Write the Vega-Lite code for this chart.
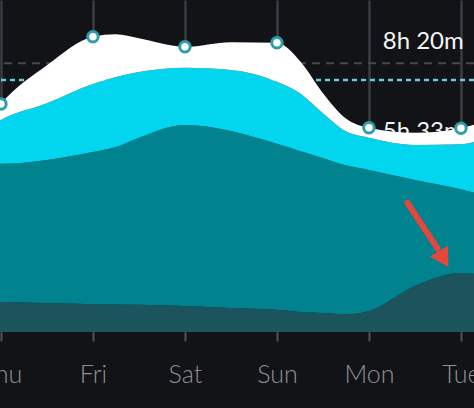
{
  "$schema": "https://vega.github.io/schema/vega-lite/v6.json",
  "width": 474,
  "height": 332,
  "padding": {"left": 0, "top": 0, "right": 0, "bottom": 76},
  "autosize": {"type": "none"},
  "background": "#121317",
  "config": {"view": {"stroke": null}},
  "datasets": {
    "stages": [
      {"day": -0.02, "stage": "Deep", "rank": 1, "hours": 0.84},
      {"day": -0.02, "stage": "Light", "rank": 2, "hours": 3.87},
      {"day": -0.02, "stage": "REM", "rank": 3, "hours": 1.2},
      {"day": -0.02, "stage": "Awake", "rank": 4, "hours": 0.42},
      {"day": 0, "stage": "Deep", "rank": 1, "hours": 0.84},
      {"day": 0, "stage": "Light", "rank": 2, "hours": 3.87},
      {"day": 0, "stage": "REM", "rank": 3, "hours": 1.23},
      {"day": 0, "stage": "Awake", "rank": 4, "hours": 0.45},
      {"day": 0.5, "stage": "Deep", "rank": 1, "hours": 0.81},
      {"day": 0.5, "stage": "Light", "rank": 2, "hours": 4.01},
      {"day": 0.5, "stage": "REM", "rank": 3, "hours": 1.59},
      {"day": 0.5, "stage": "Awake", "rank": 4, "hours": 1.06},
      {"day": 1, "stage": "Deep", "rank": 1, "hours": 0.78},
      {"day": 1, "stage": "Light", "rank": 2, "hours": 4.26},
      {"day": 1, "stage": "REM", "rank": 3, "hours": 1.91},
      {"day": 1, "stage": "Awake", "rank": 4, "hours": 1.32},
      {"day": 1.25, "stage": "Deep", "rank": 1, "hours": 0.77},
      {"day": 1.25, "stage": "Light", "rank": 2, "hours": 4.41},
      {"day": 1.25, "stage": "REM", "rank": 3, "hours": 1.96},
      {"day": 1.25, "stage": "Awake", "rank": 4, "hours": 1.2},
      {"day": 1.5, "stage": "Deep", "rank": 1, "hours": 0.76},
      {"day": 1.5, "stage": "Light", "rank": 2, "hours": 4.68},
      {"day": 1.5, "stage": "REM", "rank": 3, "hours": 1.84},
      {"day": 1.5, "stage": "Awake", "rank": 4, "hours": 0.95},
      {"day": 2, "stage": "Deep", "rank": 1, "hours": 0.73},
      {"day": 2, "stage": "Light", "rank": 2, "hours": 5.07},
      {"day": 2, "stage": "REM", "rank": 3, "hours": 1.6},
      {"day": 2, "stage": "Awake", "rank": 4, "hours": 0.59},
      {"day": 2.5, "stage": "Deep", "rank": 1, "hours": 0.67},
      {"day": 2.5, "stage": "Light", "rank": 2, "hours": 4.96},
      {"day": 2.5, "stage": "REM", "rank": 3, "hours": 1.71},
      {"day": 2.5, "stage": "Awake", "rank": 4, "hours": 0.78},
      {"day": 3, "stage": "Deep", "rank": 1, "hours": 0.62},
      {"day": 3, "stage": "Light", "rank": 2, "hours": 4.65},
      {"day": 3, "stage": "REM", "rank": 3, "hours": 1.74},
      {"day": 3, "stage": "Awake", "rank": 4, "hours": 1.09},
      {"day": 3.25, "stage": "Deep", "rank": 1, "hours": 0.56},
      {"day": 3.25, "stage": "Light", "rank": 2, "hours": 4.51},
      {"day": 3.25, "stage": "REM", "rank": 3, "hours": 1.62},
      {"day": 3.25, "stage": "Awake", "rank": 4, "hours": 0.9},
      {"day": 3.5, "stage": "Deep", "rank": 1, "hours": 0.53},
      {"day": 3.5, "stage": "Light", "rank": 2, "hours": 4.34},
      {"day": 3.5, "stage": "REM", "rank": 3, "hours": 1.26},
      {"day": 3.5, "stage": "Awake", "rank": 4, "hours": 0.56},
      {"day": 3.75, "stage": "Deep", "rank": 1, "hours": 0.5},
      {"day": 3.75, "stage": "Light", "rank": 2, "hours": 4.17},
      {"day": 3.75, "stage": "REM", "rank": 3, "hours": 0.95},
      {"day": 3.75, "stage": "Awake", "rank": 4, "hours": 0.36},
      {"day": 4, "stage": "Deep", "rank": 1, "hours": 0.59},
      {"day": 4, "stage": "Light", "rank": 2, "hours": 3.95},
      {"day": 4, "stage": "REM", "rank": 3, "hours": 0.9},
      {"day": 4, "stage": "Awake", "rank": 4, "hours": 0.28},
      {"day": 4.5, "stage": "Deep", "rank": 1, "hours": 1.29},
      {"day": 4.5, "stage": "Light", "rank": 2, "hours": 2.97},
      {"day": 4.5, "stage": "REM", "rank": 3, "hours": 0.98},
      {"day": 4.5, "stage": "Awake", "rank": 4, "hours": 0.34},
      {"day": 5, "stage": "Deep", "rank": 1, "hours": 1.65},
      {"day": 5, "stage": "Light", "rank": 2, "hours": 2.35},
      {"day": 5, "stage": "REM", "rank": 3, "hours": 1.26},
      {"day": 5, "stage": "Awake", "rank": 4, "hours": 0.45},
      {"day": 5.15, "stage": "Deep", "rank": 1, "hours": 1.63},
      {"day": 5.15, "stage": "Light", "rank": 2, "hours": 2.27},
      {"day": 5.15, "stage": "REM", "rank": 3, "hours": 1.43},
      {"day": 5.15, "stage": "Awake", "rank": 4, "hours": 0.48}
    ],
    "refs": [
      {"kind": "max", "hours": 7.53},
      {"kind": "goal", "hours": 7.06}
    ],
    "labels": [
      {"day": 4.15, "hours": 7.93, "text": "8h 20m"},
      {"day": 4.15, "hours": 5.41, "text": "5h 33m"}
    ],
    "arrow": [
      {"day": 4.417, "hours": 3.622, "day2": 4.745, "hours2": 2.34}
    ],
    "arrowhead": [
      {"day": 4.795, "hours": 2.118}
    ]
  },
  "layer": [
    {
      "data": {"name": "refs"},
      "transform": [{"filter": "datum.kind == 'max'"}],
      "mark": {"type": "rule", "color": "#46494e", "strokeWidth": 2, "strokeDash": [8, 6]},
      "encoding": {
        "y": {"field": "hours", "type": "quantitative", "scale": {"domain": [0, 9.3], "nice": false}, "axis": null}
      }
    },
    {
      "data": {"name": "refs"},
      "transform": [{"filter": "datum.kind == 'goal'"}],
      "mark": {"type": "rule", "color": "#62cfd8", "strokeWidth": 2.5, "strokeDash": [5, 4]},
      "encoding": {
        "y": {"field": "hours", "type": "quantitative"}
      }
    },
    {
      "data": {"name": "labels"},
      "mark": {"type": "text", "align": "left", "baseline": "alphabetic", "font": "Lato", "fontSize": 24, "color": "#f4f4f4"},
      "encoding": {
        "x": {"field": "day", "type": "quantitative"},
        "y": {"field": "hours", "type": "quantitative"},
        "text": {"field": "text"}
      }
    },
    {
      "data": {"name": "stages"},
      "mark": {"type": "area", "interpolate": "monotone", "clip": true},
      "encoding": {
        "x": {
          "field": "day",
          "type": "quantitative",
          "scale": {"domain": [-0.01, 5.142], "nice": false, "zero": false},
          "axis": {
            "values": [0, 1, 2, 3, 4, 5],
            "title": null,
            "domain": false,
            "grid": true,
            "gridColor": "#3a3d42",
            "gridWidth": 2.5,
            "tickColor": "#4f5257",
            "tickSize": 9,
            "tickWidth": 2,
            "labelExpr": "['Thu','Fri','Sat','Sun','Mon','Tue'][datum.value]",
            "labelFont": "Lato",
            "labelFontSize": 25,
            "labelFontWeight": 300,
            "labelColor": "#8e9195",
            "labelBaseline": "alphabetic",
            "labelPadding": 41,
            "labelFlush": false,
            "labelOverlap": false
          }
        },
        "y": {"field": "hours", "type": "quantitative", "stack": "zero"},
        "color": {
          "field": "stage",
          "type": "nominal",
          "scale": {"domain": ["Deep", "Light", "REM", "Awake"], "range": ["#1b545d", "#00838f", "#02d6ee", "#ffffff"]},
          "legend": null
        },
        "order": {"field": "rank", "type": "quantitative"}
      }
    },
    {
      "data": {"name": "stages"},
      "transform": [
        {"filter": "datum.day % 1 === 0"},
        {"aggregate": [{"op": "sum", "field": "hours", "as": "total"}], "groupby": ["day"]}
      ],
      "mark": {"type": "point", "filled": true, "fill": "#ffffff", "stroke": "#2b9ea8", "strokeWidth": 3, "size": 110, "opacity": 1},
      "encoding": {
        "x": {"field": "day", "type": "quantitative"},
        "y": {"field": "total", "type": "quantitative"}
      }
    },
    {
      "data": {"name": "arrow"},
      "mark": {"type": "rule", "color": "#e5473d", "strokeWidth": 6, "strokeCap": "round"},
      "encoding": {
        "x": {"field": "day", "type": "quantitative"},
        "y": {"field": "hours", "type": "quantitative"},
        "x2": {"field": "day2"},
        "y2": {"field": "hours2"}
      }
    },
    {
      "data": {"name": "arrowhead"},
      "mark": {"type": "point", "shape": "triangle", "filled": true, "color": "#e5473d", "size": 450, "angle": 149, "opacity": 1},
      "encoding": {
        "x": {"field": "day", "type": "quantitative"},
        "y": {"field": "hours", "type": "quantitative"}
      }
    }
  ]
}
